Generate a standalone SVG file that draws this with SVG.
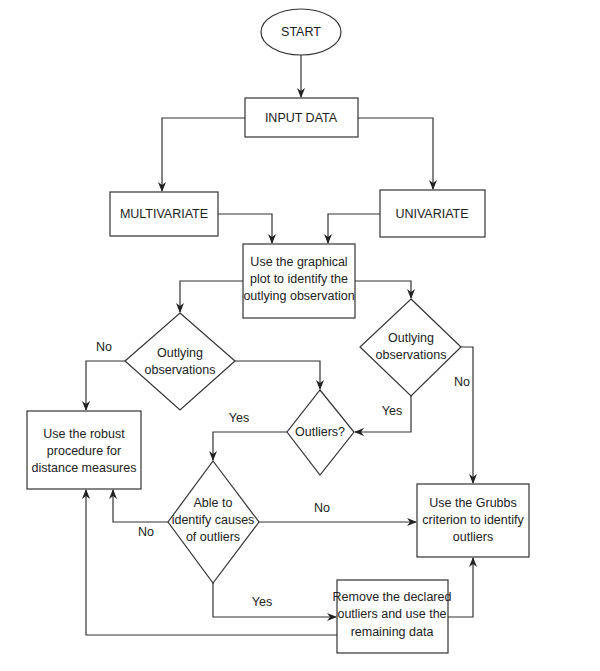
<svg xmlns="http://www.w3.org/2000/svg" width="600" height="671" viewBox="0 0 600 671">
<style>
.n{fill:#fff;stroke:#333;stroke-width:1.2}
.c{fill:none;stroke:#333;stroke-width:1.2;marker-end:url(#a)}
text{font-family:"Liberation Sans Narrow","Liberation Sans",Arial,sans-serif;font-size:12.5px;fill:#222;text-anchor:middle}
</style>
<defs><marker id="a" markerWidth="10" markerHeight="10" refX="9" refY="5" orient="auto" markerUnits="userSpaceOnUse"><path d="M0,1 L10,5 L0,9 L3,5 Z" fill="#222"/></marker></defs>
<rect width="600" height="671" fill="#fff"/>
<g id="connectors">
<path class="c" d="M301,55 V97"/>
<path class="c" d="M245,118 H162 V191"/>
<path class="c" d="M358,118 H433 V189"/>
<path class="c" d="M218,214 H272 V243"/>
<path class="c" d="M380,214 H328 V243"/>
<path class="c" d="M243,281 H180 V312"/>
<path class="c" d="M355,281 H411 V298"/>
<path class="c" d="M125,361 H86 V410"/>
<path class="c" d="M235,361 H320 V389"/>
<path class="c" d="M411,396 V432 H355"/>
<path class="c" d="M461,347 H473 V483"/>
<path class="c" d="M287,432 H213 V460"/>
<path class="c" d="M168,522 H113 V490"/>
<path class="c" d="M259,522 H416"/>
<path class="c" d="M213,583 V617 H336"/>
<path class="c" d="M448,617 H473 V558"/>
<path class="c" d="M337,635 H86 V490"/>
<text x="104" y="351">No</text>
<text x="392" y="415">Yes</text>
<text x="462" y="386">No</text>
<text x="239" y="422">Yes</text>
<text x="146" y="536">No</text>
<text x="322" y="512">No</text>
<text x="262" y="606">Yes</text>
</g>
<g id="start"><ellipse class="n" cx="301" cy="32" rx="40" ry="23"/><text x="301" y="36">START</text></g>
<g id="input"><rect class="n" x="245" y="98" width="113" height="39"/><text x="301" y="122">INPUT DATA</text></g>
<g id="multi"><rect class="n" x="110" y="192" width="108" height="44"/><text x="164" y="218">MULTIVARIATE</text></g>
<g id="uni"><rect class="n" x="380" y="190" width="105" height="47"/><text x="432" y="218">UNIVARIATE</text></g>
<g id="plot"><rect class="n" x="243" y="244" width="112" height="74"/><text x="299" y="266">Use the graphical</text><text x="299" y="283">plot to identify the</text><text x="299" y="300">outlying observation</text></g>
<g id="d1"><path class="n" d="M180,313 L235,361 L180,410 L125,361 Z"/><text x="180" y="357">Outlying</text><text x="180" y="374">observations</text></g>
<g id="d2"><path class="n" d="M411,299 L461,347 L411,396 L360,347 Z"/><text x="411" y="342">Outlying</text><text x="411" y="359">observations</text></g>
<g id="robust"><rect class="n" x="27" y="411" width="114" height="78"/><text x="84" y="438">Use the robust</text><text x="84" y="455">procedure for</text><text x="84" y="472">distance measures</text></g>
<g id="outl"><path class="n" d="M320,390 L354,432 L320,475 L287,432 Z"/><text x="320" y="436">Outliers?</text></g>
<g id="able"><path class="n" d="M213,461 L259,522 L213,583 L168,522 Z"/><text x="213" y="507">Able to</text><text x="213" y="524">identify causes</text><text x="213" y="541">of outliers</text></g>
<g id="grubbs"><rect class="n" x="417" y="484" width="112" height="73"/><text x="473" y="507">Use the Grubbs</text><text x="473" y="524">criterion to identify</text><text x="473" y="541">outliers</text></g>
<g id="remove"><rect class="n" x="337" y="580" width="111" height="73"/><text x="392" y="601">Remove the declared</text><text x="392" y="618">outliers and use the</text><text x="392" y="636">remaining data</text></g>
</svg>
